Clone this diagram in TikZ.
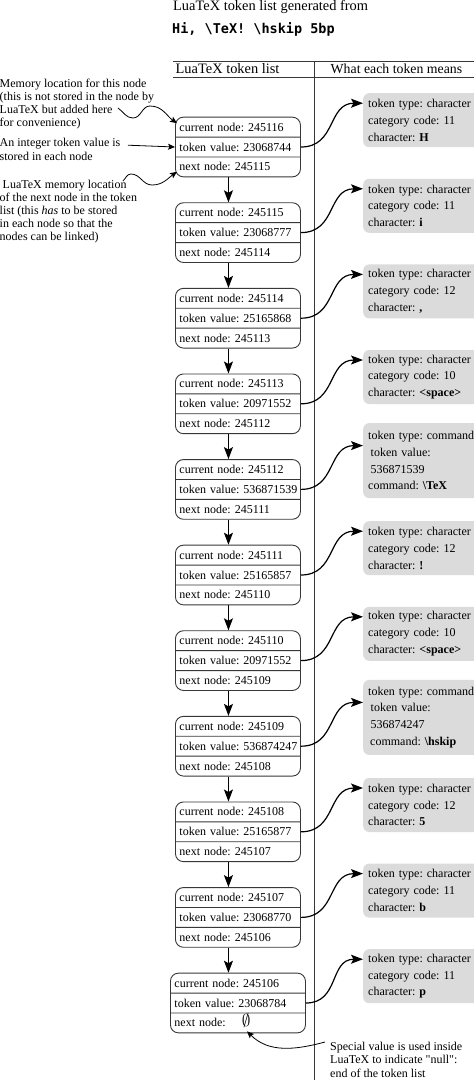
\documentclass[tikz,border=0pt]{standalone}
\usepackage{fontspec}
\setmainfont{Liberation Serif}
\setmonofont{DejaVu Sans Mono}
\usetikzlibrary{shapes.multipart,arrows.meta,calc}
\definecolor{boxgray}{RGB}{219,219,219}
\definecolor{linegray}{RGB}{55,55,55}
\newcommand\rowstrut{\rule[-5.5pt]{0pt}{19pt}}
\frenchspacing
\begin{document}
\frenchspacing
\begin{tikzpicture}[x=1pt,y=1pt,
  tnode/.style={rectangle split, rectangle split parts=3, draw=linegray, line width=0.9pt,
    rounded corners=8pt, text width=117pt, inner xsep=4pt, inner ysep=0pt, align=left,
    font=\fontsize{12}{14}\selectfont},
  tbox/.style={fill=boxgray, rounded corners=6pt, text width=110pt, inner xsep=5pt,
    align=left, anchor=west, font=\fontsize{12}{16.8}\selectfont},
  charbox/.style={tbox, minimum height=54pt},
  cmdbox/.style={tbox, minimum height=75pt},
  ann/.style={anchor=north west, inner sep=0pt, align=left},
  rule/.style={line width=1pt, draw=linegray},
  down/.style={line width=1.2pt, -{Stealth[length=12pt,width=9pt,inset=2.5pt]}},
  conn/.style={line width=1.2pt, -{Stealth[length=12pt,width=9pt,inset=2.5pt]}},
  annarrow/.style={line width=0.8pt, -{Stealth[length=7pt,width=6pt,inset=1.5pt]}}]
\useasboundingbox (0,0) rectangle (474,-1080);

% titles
\node[anchor=base west, inner sep=0pt, font=\fontsize{14.4}{17}\selectfont] (title) at (173,-10.5) {LuaTeX token list generated from};
\node[anchor=base west, inner sep=0pt, font=\fontsize{13.5}{16}\selectfont\ttfamily\bfseries] (src) at (172,-33.5) {Hi, \textbackslash TeX! \textbackslash hskip 5bp};

% table rules
\draw[rule] (173,-61) -- (478,-61);
\draw[rule] (173,-77) -- (478,-77);
\draw[rule] (314,-61) -- (314,-1084);
\node[anchor=base west, inner sep=0pt, font=\fontsize{14.4}{17}\selectfont] (h1) at (175.5,-73.5) {LuaTeX token list};
\node[anchor=base west, inner sep=0pt, font=\fontsize{13.8}{17}\selectfont] (h2) at (330.5,-73.5) {What each token means};

% token list nodes
\foreach \k/\cur/\val/\nxt in {1/245116/23068744/245115, 2/245115/23068777/245114,
   3/245114/25165868/245113, 4/245113/20971552/245112, 5/245112/536871539/245111,
   6/245111/25165857/245110, 7/245110/20971552/245109, 8/245109/536874247/245108,
   9/245108/25165877/245107, 10/245107/23068770/245106}{
  \pgfmathsetmacro\ty{-(116.7+(\k-1)*85.6)}
  \node[tnode, anchor=north west] (n\k) at (175,\ty)
    {\rowstrut\mbox{current node: \cur}\nodepart{two}\rowstrut\mbox{token value: \val}\nodepart{three}\rowstrut\mbox{next node: \nxt}};
}
\node[tnode, anchor=north west, text width=127pt] (n11) at (170,-972.7)
  {\rowstrut current node: 245106\nodepart{two}\rowstrut token value: 23068784\nodepart{three}\rowstrut next node:\hspace{16pt}{\fontsize{16}{16}\selectfont$\emptyset$}};

\foreach \a/\b in {1/2,2/3,3/4,4/5,5/6,6/7,7/8,8/9,9/10,10/11}
  \draw[down] ([xshift=-9.5pt]n\a.south) -- ([xshift=-9.5pt]n\b.north);

% meaning boxes
\node[charbox] (b1) at (363,-120.2) {token type: character\\category code: 11\\character: \textbf{H}};
\node[charbox] (b2) at (363,-205.8) {token type: character\\category code: 11\\character: \textbf{i}};
\node[charbox] (b3) at (363,-291.4) {token type: character\\category code: 12\\character: \textbf{,}};
\node[charbox] (b4) at (363,-377.0) {token type: character\\category code: 10\\character: \textbf{<space>}};
\node[cmdbox]  (b5) at (363,-460.6) {token type: command\\\hspace*{2.5pt}token value:\\\hspace*{2.5pt}536871539\\command: \textbf{\textbackslash TeX}};
\node[charbox] (b6) at (363,-548.2) {token type: character\\category code: 12\\character: \textbf{!}};
\node[charbox] (b7) at (363,-633.8) {token type: character\\category code: 10\\character: \textbf{<space>}};
\node[cmdbox]  (b8) at (363,-717.4) {token type: command\\\hspace*{2.5pt}token value:\\\hspace*{2.5pt}536874247\\\hspace*{2pt}command: \textbf{\textbackslash hskip}};
\node[charbox] (b9) at (363,-805.0) {token type: character\\category code: 12\\character: \textbf{5}};
\node[charbox] (b10) at (363,-890.6) {token type: character\\category code: 11\\character: \textbf{b}};
\node[charbox] (b11) at (363,-976.2) {token type: character\\category code: 11\\character: \textbf{p}};

\foreach \k/\s in {1/17,2/17,3/17,4/17,5/15,6/17,7/17,8/15,9/17,10/17,11/17}
  \draw[conn] (n\k.east) to[out=0,in=180,looseness=1.2] ([yshift=\s]b\k.west);

% annotations
\node[ann, font=\fontsize{12}{13}\selectfont] (ann1) at (-0.5,-78.5)
  {Memory location for this node\\(this is not stored in the node by\\LuaTeX but added here\\for convenience)};
\node[ann, font=\fontsize{12}{14}\selectfont] (ann2) at (-0.5,-137.5)
  {An integer token value is\\stored in each node};
\node[ann, font=\fontsize{12}{13}\selectfont] (ann3) at (-0.5,-179.5)
  {\hspace*{3pt}LuaTeX memory location\\of the next node in the token\\list (this \textit{has} to be stored\\in each node so that the\\nodes can be linked)};
\node[ann, font=\fontsize{12}{13.5}\selectfont] (ann4) at (330,-1041.5)
  {Special value is used inside\\LuaTeX to indicate \textquotedbl null\textquotedbl:\\end of the token list};

\coordinate (a1s) at (118,-108);
\coordinate (a2s) at (128,-145.2);
\coordinate (a3s) at (123,-181);
\coordinate (a4s) at (325,-1042);
\coordinate (t1) at ([xshift=2pt,yshift=-6.5pt]n1.north west);
\coordinate (t3) at ([xshift=2pt,yshift=5.5pt]n1.south west);
\coordinate (t4) at ([xshift=77pt,yshift=2pt]n11.south west);

\draw[annarrow] (a1s) to[out=-35,in=180] (133,-118) to[out=0,in=180] (150,-106) to[out=0,in=145] (t1);
\draw[annarrow] (a2s) -- (n1.west);
\draw[annarrow] (a3s) to[out=45,in=180] (131,-174) to[out=0,in=180] (152,-185) to[out=0,in=215] (t3);
\draw[annarrow] (a4s) to[out=195,in=-45] (t4);
\end{tikzpicture}
\end{document}
